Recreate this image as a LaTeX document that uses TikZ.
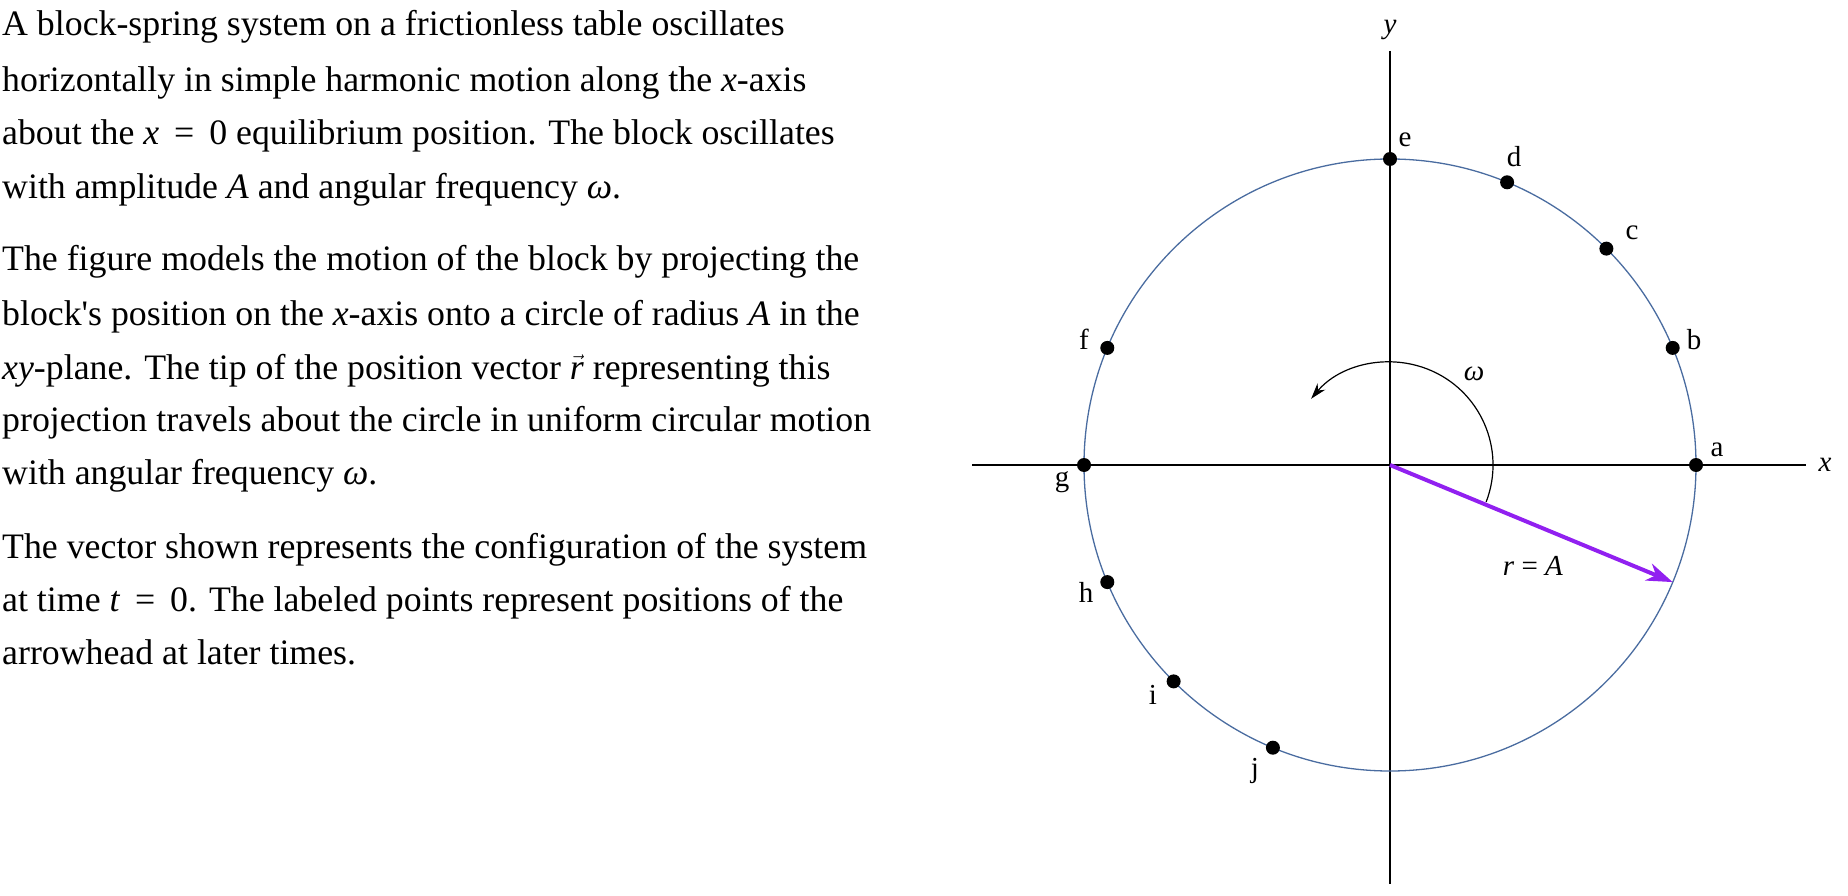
\documentclass[tikz,border=0pt]{standalone}
\usepackage{fontspec}
\setmainfont{Liberation Serif}
\usetikzlibrary{arrows.meta}
\begin{document}
\begin{tikzpicture}[x=1pt,y=1pt,
  txt/.style={anchor=base west,inner sep=0pt,font=\fontsize{35.8}{40}\selectfont},
  lbl/.style={inner sep=0pt,font=\fontsize{29}{33}\selectfont},
  dot/.style={circle,fill=black,inner sep=0pt,minimum size=14pt}]
\useasboundingbox (0,0) rectangle (1848,-896);
\node[txt] (l1) at (2,-36) {A block-spring system on a frictionless table oscillates};
\node[txt] (l2) at (2,-92) {horizontally in simple harmonic motion along the \textit{x}-axis};
\node[txt] (l3) at (2,-145) {about the \textit{x} \,=\, 0 equilibrium position. The block oscillates};
\node[txt] (l4) at (2,-199) {with amplitude \textit{A} and angular frequency \textit{ω}.};
\node[txt] (l5) at (2,-270) {The figure models the motion of the block by projecting the};
\node[txt] (l6) at (2,-325) {block\textquotesingle s position on the \textit{x}-axis onto a circle of radius \textit{A} in the};
\node[txt] (l7) at (2,-379) {\textit{xy}-plane. The tip of the position vector $\vec{\mbox{\textit{r}}}$ representing this};
\node[txt] (l8) at (2,-431) {projection travels about the circle in uniform circular motion};
\node[txt] (l9) at (2,-484) {with angular frequency \textit{ω}.};
\node[txt] (l10) at (2,-558) {The vector shown represents the configuration of the system};
\node[txt] (l11) at (2,-611) {at time \textit{t} \,=\, 0. The labeled points represent positions of the};
\node[txt] (l12) at (2,-664) {arrowhead at later times.};

\coordinate (O) at (1390,-465);
\coordinate (xl) at (972,-465);
\coordinate (xr) at (1806,-465);
\coordinate (yt) at (1390,-51);
\coordinate (yb) at (1390,-884);
\draw[line width=1.4pt] (xl) -- (xr);
\draw[line width=1.4pt] (yt) -- (yb);
\draw[color={rgb,255:red,74;green,108;blue,160},line width=1.3pt] (O) circle (306);
\draw[line width=1.2pt,-{Stealth[length=16pt,width=10pt]}] ([shift={(-21:103)}]O) arc (-21:140:103);
\coordinate (tip) at ([shift={(-22.5:306)}]O);
\draw[color={rgb,255:red,145;green,32;blue,240},line width=4pt,-{Stealth[length=26pt,width=18pt,inset=8pt]}] (O) -- (tip);
\foreach \n/\a in {a/0,b/22.5,c/45,d/67.5,e/90,f/157.5,g/180,h/202.5,i/225,j/247.5}
  \node[dot] (p\n) at ([shift={(\a:306)}]O) {};
\node[lbl] (la) at (1717,-450) {a};
\node[lbl] (lb) at (1694,-340) {b};
\node[lbl] (lc) at (1632,-233) {c};
\node[lbl] (ld) at (1514,-157) {d};
\node[lbl] (le) at (1405,-140) {e};
\node[lbl] (lf) at (1084,-339) {f};
\node[lbl] (lg) at (1062,-482) {g};
\node[lbl] (lh) at (1086,-592) {h};
\node[lbl] (li) at (1153,-695) {i};
\node[lbl] (lj) at (1255,-771) {j};
\node[lbl] (lx) at (1825,-465) {\textit{x}};
\node[lbl] (ly) at (1390,-30) {\textit{y}};
\node[lbl] (lw) at (1474,-374) {\textit{ω}};
\node[lbl] (lr) at (1533,-566) {\textit{r} = \textit{A}};
\end{tikzpicture}
\end{document}
